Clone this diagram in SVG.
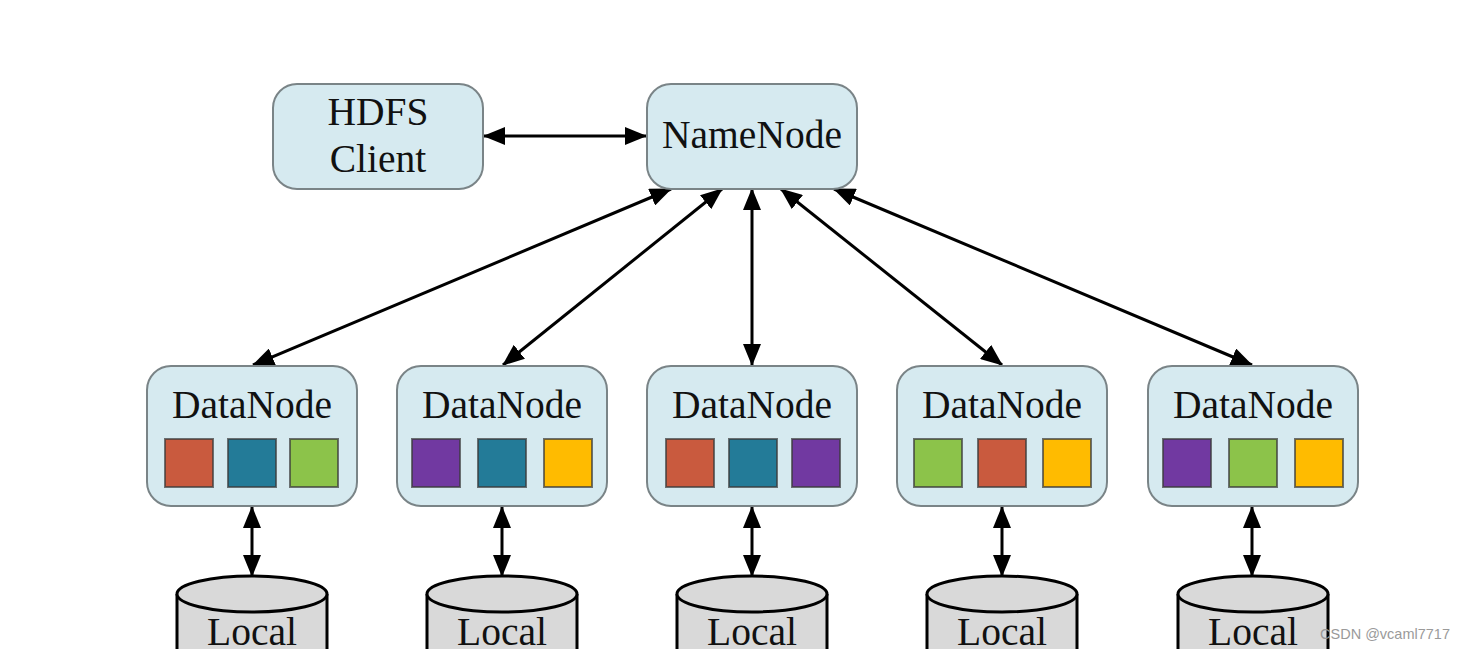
<svg xmlns="http://www.w3.org/2000/svg" width="1464" height="649" viewBox="0 0 1464 649">
<defs>
<marker id="ah" viewBox="0 0 22 18" refX="21" refY="9" markerWidth="22" markerHeight="18" markerUnits="userSpaceOnUse" orient="auto-start-reverse">
<path d="M0,0 L22,9 L0,18 Z" fill="#000"/>
</marker>
<style>
.box{fill:#d6eaf0;stroke:#7a8487;stroke-width:2}
.t{font-family:"Liberation Serif",serif;font-size:39.5px;fill:#111;text-anchor:middle}
.sq{stroke:#3a3a3a;stroke-opacity:0.7;stroke-width:2}
.r{fill:#c95a3e}.b{fill:#237b98}.g{fill:#8cc34a}.p{fill:#7139a1}.y{fill:#ffbb00}
.cyl{fill:#d9d9d9;stroke:#000;stroke-width:3}
.ln{stroke:#000;stroke-width:3;fill:none;marker-start:url(#ah);marker-end:url(#ah)}
</style>
</defs>
<rect width="1464" height="649" fill="#fff"/>
<g id="connectors">
<line class="ln" x1="484" y1="136" x2="646" y2="136"/>
<line class="ln" x1="253" y1="365" x2="671" y2="189"/>
<line class="ln" x1="503" y1="365" x2="722" y2="189"/>
<line class="ln" x1="752" y1="365" x2="752" y2="189"/>
<line class="ln" x1="1002" y1="365" x2="781" y2="189"/>
<line class="ln" x1="1252" y1="365" x2="834" y2="189"/>
<line class="ln" x1="252" y1="507" x2="252" y2="576"/>
<line class="ln" x1="502" y1="507" x2="502" y2="576"/>
<line class="ln" x1="752" y1="507" x2="752" y2="576"/>
<line class="ln" x1="1002" y1="507" x2="1002" y2="576"/>
<line class="ln" x1="1252" y1="507" x2="1252" y2="576"/>
</g>
<g id="client">
<rect class="box" x="273" y="84" width="210" height="105" rx="24"/>
<text class="t" x="378" y="125">HDFS</text>
<text class="t" x="378" y="172">Client</text>
</g>
<g id="namenode">
<rect class="box" x="647" y="84" width="210" height="105" rx="24"/>
<text class="t" x="752" y="148">NameNode</text>
</g>
<g id="dn1">
<rect class="box" x="147" y="366" width="210" height="140" rx="24"/>
<text class="t" x="252" y="418">DataNode</text>
<rect class="sq r" x="165" y="439" width="48" height="48"/>
<rect class="sq b" x="228" y="439" width="48" height="48"/>
<rect class="sq g" x="290" y="439" width="48" height="48"/>
</g>
<g id="dn2">
<rect class="box" x="397" y="366" width="210" height="140" rx="24"/>
<text class="t" x="502" y="418">DataNode</text>
<rect class="sq p" x="412" y="439" width="48" height="48"/>
<rect class="sq b" x="478" y="439" width="48" height="48"/>
<rect class="sq y" x="544" y="439" width="48" height="48"/>
</g>
<g id="dn3">
<rect class="box" x="647" y="366" width="210" height="140" rx="24"/>
<text class="t" x="752" y="418">DataNode</text>
<rect class="sq r" x="666" y="439" width="48" height="48"/>
<rect class="sq b" x="729" y="439" width="48" height="48"/>
<rect class="sq p" x="792" y="439" width="48" height="48"/>
</g>
<g id="dn4">
<rect class="box" x="897" y="366" width="210" height="140" rx="24"/>
<text class="t" x="1002" y="418">DataNode</text>
<rect class="sq g" x="914" y="439" width="48" height="48"/>
<rect class="sq r" x="978" y="439" width="48" height="48"/>
<rect class="sq y" x="1043" y="439" width="48" height="48"/>
</g>
<g id="dn5">
<rect class="box" x="1148" y="366" width="210" height="140" rx="24"/>
<text class="t" x="1253" y="418">DataNode</text>
<rect class="sq p" x="1163" y="439" width="48" height="48"/>
<rect class="sq g" x="1229" y="439" width="48" height="48"/>
<rect class="sq y" x="1295" y="439" width="48" height="48"/>
</g>
<g id="disk1">
<path class="cyl" d="M177,594 L177,660 L327,660 L327,594"/>
<ellipse class="cyl" cx="252" cy="594" rx="75" ry="18"/>
<text class="t" x="252" y="645">Local</text>
</g>
<g id="disk2">
<path class="cyl" d="M427,594 L427,660 L577,660 L577,594"/>
<ellipse class="cyl" cx="502" cy="594" rx="75" ry="18"/>
<text class="t" x="502" y="645">Local</text>
</g>
<g id="disk3">
<path class="cyl" d="M677,594 L677,660 L827,660 L827,594"/>
<ellipse class="cyl" cx="752" cy="594" rx="75" ry="18"/>
<text class="t" x="752" y="645">Local</text>
</g>
<g id="disk4">
<path class="cyl" d="M927,594 L927,660 L1077,660 L1077,594"/>
<ellipse class="cyl" cx="1002" cy="594" rx="75" ry="18"/>
<text class="t" x="1002" y="645">Local</text>
</g>
<g id="disk5">
<path class="cyl" d="M1178,594 L1178,660 L1328,660 L1328,594"/>
<ellipse class="cyl" cx="1253" cy="594" rx="75" ry="18"/>
<text class="t" x="1253" y="645">Local</text>
</g>
<text x="1450" y="639" font-family="Liberation Sans,sans-serif" font-size="14.5" fill="#9a9a9a" text-anchor="end">CSDN @vcaml7717</text>
</svg>
